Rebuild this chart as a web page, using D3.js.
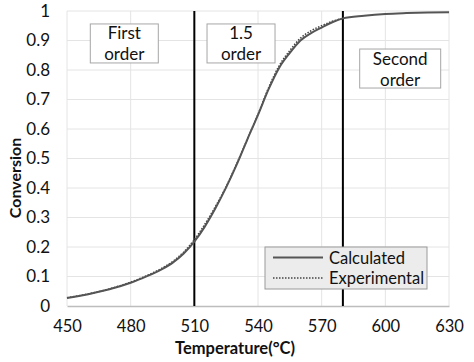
<!DOCTYPE html>
<html>
<head>
<meta charset="utf-8">
<script src="https://cdn.jsdelivr.net/npm/d3@7"></script>
<style>
  body { margin: 0; background: #fff; }
  svg { font-family: Lato, "Open Sans", sans-serif; }
</style>
</head>
<body>
<svg width="474" height="362"></svg>
<script>
// temperatures (°C) and conversion values
var calcTemp = [450, 455, 460, 465, 470, 475, 480, 485, 490, 495, 500, 505, 510, 515, 520, 525, 530, 535, 540, 545, 550, 555, 560, 565, 570, 575, 580, 590, 600, 610, 620, 630];
var calcConv = [0.027, 0.033, 0.040, 0.048, 0.057, 0.067, 0.079, 0.093, 0.108, 0.126, 0.148, 0.178, 0.218, 0.270, 0.332, 0.402, 0.480, 0.565, 0.648, 0.735, 0.808, 0.858, 0.900, 0.925, 0.944, 0.962, 0.975, 0.984, 0.990, 0.993, 0.995, 0.996];
var expTemp = [450, 460, 470, 480, 490, 495, 500, 505, 510, 515, 520, 525, 530, 535, 540, 545, 550, 555, 560, 565, 570, 575, 580];
var expConv = [0.028, 0.041, 0.058, 0.081, 0.111, 0.129, 0.152, 0.183, 0.225, 0.278, 0.338, 0.405, 0.483, 0.566, 0.650, 0.740, 0.815, 0.866, 0.908, 0.933, 0.950, 0.965, 0.975];
var orderLines = [510, 580];
var xTicks = [450, 480, 510, 540, 570, 600, 630];
var yTicks = [0, 0.1, 0.2, 0.3, 0.4, 0.5, 0.6, 0.7, 0.8, 0.9, 1];
var notes = [
    { lines: ['First', 'order'], t: 477, v: 0.89, w: 68 },
    { lines: ['1.5', 'order'], t: 532, v: 0.89, w: 68 },
    { lines: ['Second', 'order'], t: 607, v: 0.805, w: 81 }
];

var svg = d3.select('svg');
var margin = { top: 11, right: 25, bottom: 56, left: 67 };
var width = svg.attr('width') - margin.left - margin.right;
var height = svg.attr('height') - margin.top - margin.bottom;

var g = svg.append('g')
    .attr('transform', 'translate(' + margin.left + ',' + margin.top + ')');

var xScale = d3.scaleLinear().domain([450, 630]).range([0, width]);
var yScale = d3.scaleLinear().domain([0, 1]).range([height, 0]);

// grid
g.append('g').selectAll('line').data(yTicks.slice(1)).enter().append('line')
    .attr('x1', 0).attr('x2', width)
    .attr('y1', function (d) { return yScale(d); })
    .attr('y2', function (d) { return yScale(d); })
    .attr('stroke', '#e4e4e4');
g.append('g').selectAll('line').data(xTicks).enter().append('line')
    .attr('x1', function (d) { return xScale(d); })
    .attr('x2', function (d) { return xScale(d); })
    .attr('y1', 0).attr('y2', height)
    .attr('stroke', '#e4e4e4');

var xAxis = g.append('g')
    .attr('transform', 'translate(0,' + height + ')')
    .call(d3.axisBottom(xScale).tickValues(xTicks).tickSize(0).tickPadding(14).tickFormat(d3.format('d')));
xAxis.select('.domain').attr('stroke', '#bdbdbd').attr('stroke-width', 1.5);
xAxis.selectAll('text').attr('font-size', 16.5).attr('fill', '#111').attr('font-family', 'Lato');

var yAxis = g.append('g')
    .call(d3.axisLeft(yScale).tickValues(yTicks).tickSize(0).tickPadding(17).tickFormat(function (d) { return d === 0 || d === 1 ? d : d.toFixed(1); }));
yAxis.select('.domain').remove();
yAxis.selectAll('text').attr('font-size', 17).attr('fill', '#111').attr('font-family', 'Lato');

// order boundaries
g.selectAll('.order').data(orderLines).enter().append('line')
    .attr('x1', function (d) { return xScale(d); })
    .attr('x2', function (d) { return xScale(d); })
    .attr('y1', 0).attr('y2', height)
    .attr('stroke', '#000').attr('stroke-width', 2);

var line = d3.line()
    .x(function (d) { return xScale(d[0]); })
    .y(function (d) { return yScale(d[1]); })
    .curve(d3.curveMonotoneX);

g.append('path')
    .datum(d3.zip(expTemp, expConv))
    .attr('d', line)
    .attr('fill', 'none')
    .attr('stroke', '#444')
    .attr('stroke-width', 1.5)
    .attr('stroke-dasharray', '1.5,1.5');

g.append('path')
    .datum(d3.zip(calcTemp, calcConv))
    .attr('d', line)
    .attr('fill', 'none')
    .attr('stroke', '#555')
    .attr('stroke-width', 2);

// annotation boxes
notes.forEach(function (n) {
    var cx = xScale(n.t), cy = yScale(n.v);
    var ng = g.append('g');
    ng.append('rect')
        .attr('x', cx - n.w / 2).attr('y', cy - 19.5)
        .attr('width', n.w).attr('height', 39)
        .attr('fill', '#fff').attr('stroke', '#a6a6a6');
    ng.selectAll('text').data(n.lines).enter().append('text')
        .attr('x', cx)
        .attr('y', function (d, i) { return cy - 4 + i * 21; })
        .attr('text-anchor', 'middle')
        .attr('font-size', 17)
        .attr('fill', '#111')
        .text(function (d) { return d; });
});

// legend
var legend = g.append('g').attr('transform', 'translate(' + (265 - margin.left) + ',' + (247 - margin.top) + ')');
legend.append('rect')
    .attr('width', 162).attr('height', 42)
    .attr('fill', '#ececec').attr('stroke', '#9a9a9a');
var legendItems = [
    { name: 'Calculated', dash: null, w: 2, c: '#555' },
    { name: 'Experimental', dash: '1.5,1.5', w: 1.5, c: '#444' }
];
legendItems.forEach(function (d, i) {
    var y = 10.5 + i * 20.5;
    legend.append('line')
        .attr('x1', 8).attr('x2', 58).attr('y1', y).attr('y2', y)
        .attr('stroke', d.c).attr('stroke-width', d.w)
        .attr('stroke-dasharray', d.dash);
    legend.append('text')
        .attr('x', 64).attr('y', y + 6)
        .attr('font-size', 16.5).attr('fill', '#111')
        .text(d.name);
});

// axis titles
svg.append('text')
    .attr('transform', 'translate(21,178) rotate(-90)')
    .attr('text-anchor', 'middle')
    .attr('font-size', 16).attr('font-weight', 'bold').attr('fill', '#111')
    .text('Conversion');
svg.append('text')
    .attr('x', 235).attr('y', 354)
    .attr('text-anchor', 'middle')
    .attr('font-size', 16.5).attr('font-weight', 'bold').attr('fill', '#111')
    .text('Temperature(°C)');
</script>
</body>
</html>
